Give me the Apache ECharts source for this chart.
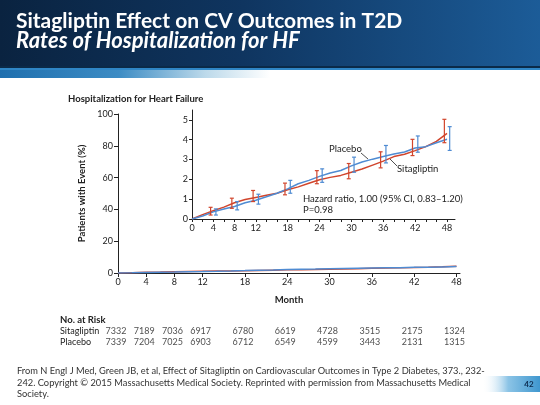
<!DOCTYPE html>
<html>
<head>
<meta charset="utf-8">
<script src="https://cdn.jsdelivr.net/npm/echarts@6/dist/echarts.min.js"></script>
<style>
  html, body { margin: 0; padding: 0; background: #fff; }
  #main { width: 540px; height: 405px; }
</style>
</head>
<body>
<div id="main"></div>
<script>
// cumulative incidence (%) read every 2 months
const months = [0, 2, 4, 6, 8, 10, 12, 14, 16, 18, 20, 22, 24, 26, 28, 30, 32, 34, 36, 38, 40, 42, 44, 46, 48]
const sitagliptin = [0, 0.22, 0.42, 0.6, 0.82, 0.98, 1.09, 1.2, 1.3, 1.48, 1.62, 1.8, 1.98, 2.1, 2.2, 2.36, 2.52, 2.72, 2.92, 3.15, 3.27, 3.45, 3.65, 3.92, 4.32]
const placebo = [0, 0.15, 0.36, 0.5, 0.63, 0.82, 0.95, 1.12, 1.3, 1.52, 1.78, 1.95, 2.15, 2.32, 2.45, 2.68, 2.88, 3.02, 3.15, 3.28, 3.38, 3.58, 3.65, 3.85, 4.02]

// 95% CI bars
const sitaCiMonths = [3.5, 7.5, 11.5, 17.5, 23.5, 29.5, 35.5, 41.5, 47.5]
const sitaCiLow = [0.2, 0.54, 0.88, 1.22, 1.78, 2.03, 2.58, 3.2, 3.85]
const sitaCiHigh = [0.59, 1.05, 1.44, 1.81, 2.44, 2.8, 3.39, 4.02, 5.03]
const placCiMonths = [4.5, 8.5, 12.5, 18.5, 24.5, 30.5, 36.5, 42.5, 48.5]
const placCiLow = [0.2, 0.46, 0.75, 1.3, 1.85, 2.36, 2.83, 3.37, 3.46]
const placCiHigh = [0.51, 0.88, 1.25, 1.95, 2.53, 3.12, 3.71, 4.19, 4.66]

// number at risk
const riskMonths = [0, 4, 8, 12, 18, 24, 30, 36, 42, 48]
const sitaRisk = [7332, 7189, 7036, 6917, 6780, 6619, 4728, 3515, 2175, 1324]
const placRisk = [7339, 7204, 7025, 6903, 6712, 6549, 4599, 3443, 2131, 1315]

const monthTicks = [0, 4, 8, 12, 18, 24, 30, 36, 42, 48]
const insetMinorTicks = [0, 2, 4, 6, 8, 10, 12, 14, 16, 18, 20, 22, 24, 26, 28, 30, 32, 34, 36, 38, 40, 42, 44, 46, 48]

const RED = '#d1452c'
const BLUE = '#4f8bd2'
const INK = '#222'
const FONT = 'Lato'

const chart = echarts.init(document.getElementById('main'), null, { renderer: 'canvas' })

function pairs(xs, ys) {
  return xs.map((x, i) => [x, ys[i]])
}
function ci(xs, lo, hi) {
  return xs.map((x, i) => [x, lo[i], hi[i]])
}

function errorBar(params, api) {
  const x = api.value(0)
  const a = api.coord([x, api.value(1)])
  const b = api.coord([x, api.value(2)])
  const w = 2
  const style = { stroke: api.visual('color'), lineWidth: 1.2 }
  return {
    type: 'group',
    children: [
      { type: 'line', shape: { x1: a[0], y1: a[1], x2: b[0], y2: b[1] }, style },
      { type: 'line', shape: { x1: a[0] - w, y1: a[1], x2: a[0] + w, y2: a[1] }, style },
      { type: 'line', shape: { x1: b[0] - w, y1: b[1], x2: b[0] + w, y2: b[1] }, style }
    ]
  }
}

const axisLine = { lineStyle: { color: INK, width: 1 } }
const tickLabel = { color: INK, fontSize: 9, fontFamily: FONT }

const option = {
  animation: false,
  backgroundColor: '#fff',
  grid: [
    { left: 118, top: 114, width: 342, height: 159 },
    { left: 192, top: 110, width: 263, height: 109 },
    { left: 118, top: 326, width: 342, height: 22 }
  ],
  xAxis: [
    {
      gridIndex: 0, type: 'value', min: 0, max: 48.5,
      axisLine, splitLine: { show: false },
      axisTick: { customValues: monthTicks, length: 4, lineStyle: { color: INK } },
      axisLabel: Object.assign({ customValues: monthTicks, margin: 5 }, tickLabel),
      name: 'Month', nameLocation: 'middle', nameGap: 22,
      nameTextStyle: { color: INK, fontSize: 9.5, fontWeight: 'bold', fontFamily: FONT }
    },
    {
      gridIndex: 1, type: 'value', min: 0, max: 49.5,
      axisLine, splitLine: { show: false },
      axisTick: { customValues: insetMinorTicks, length: 3, lineStyle: { color: INK } },
      axisLabel: Object.assign({ customValues: monthTicks, margin: 5 }, tickLabel)
    },
    {
      gridIndex: 2, type: 'value', min: 0, max: 48.5, show: false
    }
  ],
  yAxis: [
    {
      gridIndex: 0, type: 'value', min: 0, max: 100, interval: 20,
      axisLine: { show: true, lineStyle: { color: INK } }, splitLine: { show: false },
      axisTick: { show: true, length: 4, lineStyle: { color: INK } },
      axisLabel: Object.assign({ margin: 5 }, tickLabel),
      name: 'Patients with Event (%)', nameLocation: 'middle', nameGap: 31, nameRotate: 90,
      nameTextStyle: { color: INK, fontSize: 9.5, fontWeight: 'bold', fontFamily: FONT }
    },
    {
      gridIndex: 1, type: 'value', min: 0, max: 5.5, interval: 1,
      axisLine: { show: true, lineStyle: { color: INK } }, splitLine: { show: false },
      axisTick: { show: true, length: 3, lineStyle: { color: INK } },
      axisLabel: Object.assign({ margin: 4, showMaxLabel: false }, tickLabel)
    },
    {
      gridIndex: 2, type: 'category', data: ['Sitagliptin', 'Placebo'], inverse: true, show: false
    }
  ],
  series: [
    // main panel
    { type: 'line', xAxisIndex: 0, yAxisIndex: 0, data: pairs(months, sitagliptin), symbol: 'none', lineStyle: { color: RED, width: 1.5 }, z: 3 },
    { type: 'line', xAxisIndex: 0, yAxisIndex: 0, data: pairs(months, placebo), symbol: 'none', lineStyle: { color: BLUE, width: 1.5 }, z: 4 },
    // inset
    { type: 'line', xAxisIndex: 1, yAxisIndex: 1, data: pairs(months, sitagliptin), symbol: 'none', lineStyle: { color: RED, width: 1.5 }, z: 3 },
    { type: 'line', xAxisIndex: 1, yAxisIndex: 1, data: pairs(months, placebo), symbol: 'none', lineStyle: { color: BLUE, width: 1.5 }, z: 4 },
    { type: 'custom', xAxisIndex: 1, yAxisIndex: 1, data: ci(sitaCiMonths, sitaCiLow, sitaCiHigh), renderItem: errorBar, itemStyle: { color: RED }, encode: { x: 0, y: [1, 2] }, z: 5 },
    { type: 'custom', xAxisIndex: 1, yAxisIndex: 1, data: ci(placCiMonths, placCiLow, placCiHigh), renderItem: errorBar, itemStyle: { color: BLUE }, encode: { x: 0, y: [1, 2] }, z: 5 },
    // number at risk rows
    {
      type: 'scatter', xAxisIndex: 2, yAxisIndex: 2, symbolSize: 0,
      data: riskMonths.map((m, i) => [m, 'Sitagliptin', sitaRisk[i]]),
      label: { show: true, position: 'inside', offset: [-2, 0], formatter: p => p.value[2], color: INK, fontSize: 9, fontFamily: FONT }
    },
    {
      type: 'scatter', xAxisIndex: 2, yAxisIndex: 2, symbolSize: 0,
      data: riskMonths.map((m, i) => [m, 'Placebo', placRisk[i]]),
      label: { show: true, position: 'inside', offset: [-2, 0], formatter: p => p.value[2], color: INK, fontSize: 9, fontFamily: FONT }
    }
  ],
  graphic: [
    // banner
    {
      type: 'rect', shape: { x: 0, y: 0, width: 540, height: 67 }, z: 0,
      style: { fill: new echarts.graphic.LinearGradient(0, 0, 1, 0, [
        { offset: 0, color: '#0a2340' }, { offset: 0.45, color: '#0f3560' }, { offset: 1, color: '#1c5c98' }
      ]) }
    },
    { type: 'rect', shape: { x: 0, y: 66, width: 540, height: 2 }, style: { fill: '#0b2a48' }, z: 0 },
    { type: 'rect', shape: { x: 0, y: 68, width: 540, height: 2 }, style: { fill: '#2f86c6' }, z: 0 },
    {
      type: 'rect', shape: { x: 0, y: 70, width: 540, height: 8 }, z: 0,
      style: { fill: new echarts.graphic.LinearGradient(0, 0, 1, 0, [
        { offset: 0, color: '#1f6fae' }, { offset: 0.22, color: '#3d8cc4' }, { offset: 0.38, color: '#bcd9ea' }, { offset: 0.5, color: '#ffffff' }, { offset: 1, color: '#ffffff' }
      ]) }
    },
    { type: 'text', x: 16, y: 21, style: { text: 'Sitagliptin Effect on CV Outcomes in T2D', fill: '#fff', font: 'bold 21px Lato', verticalAlign: 'middle' }, z: 10 },
    { type: 'text', x: 16, y: 41, style: { text: 'Rates of Hospitalization for HF', fill: '#fff', font: 'italic bold 22px Lato', verticalAlign: 'middle' }, z: 10 },

    // panel title
    { type: 'text', x: 68, y: 99, style: { text: 'Hospitalization for Heart Failure', fill: INK, font: 'bold 9.5px Lato', verticalAlign: 'middle' } },

    // inset annotations
    { type: 'text', x: 329, y: 149, style: { text: 'Placebo', fill: INK, font: '9.5px Lato', verticalAlign: 'middle' } },
    { type: 'line', shape: { x1: 361, y1: 153, x2: 368, y2: 159 }, style: { stroke: INK, lineWidth: 0.8 } },
    { type: 'text', x: 397, y: 169, style: { text: 'Sitagliptin', fill: INK, font: '9.5px Lato', verticalAlign: 'middle' } },
    { type: 'line', shape: { x1: 390, y1: 159, x2: 397, y2: 166 }, style: { stroke: INK, lineWidth: 0.8 } },
    { type: 'text', x: 303, y: 199, style: { text: 'Hazard ratio, 1.00 (95% CI, 0.83\u20131.20)', fill: INK, font: '9.5px Lato', verticalAlign: 'middle' } },
    { type: 'text', x: 303, y: 210, style: { text: 'P=0.98', fill: INK, font: '9.5px Lato', verticalAlign: 'middle' } },

    // number at risk labels
    { type: 'text', x: 60, y: 320, style: { text: 'No. at Risk', fill: INK, font: 'bold 9.5px Lato', verticalAlign: 'middle' } },
    { type: 'text', x: 60, y: 331.5, style: { text: 'Sitagliptin', fill: INK, font: '9px Lato', verticalAlign: 'middle' } },
    { type: 'text', x: 60, y: 342.5, style: { text: 'Placebo', fill: INK, font: '9px Lato', verticalAlign: 'middle' } },

    // footer
    { type: 'text', x: 17, y: 371, style: { text: 'From N Engl J Med, Green JB, et al, Effect of Sitagliptin on Cardiovascular Outcomes in Type 2 Diabetes, 373., 232-', fill: '#333', font: '9.3px Lato', verticalAlign: 'middle' } },
    { type: 'text', x: 17, y: 383, style: { text: '242. Copyright \u00a9 2015 Massachusetts Medical Society. Reprinted with permission from Massachusetts Medical', fill: '#333', font: '9.3px Lato', verticalAlign: 'middle' } },
    { type: 'text', x: 17, y: 394, style: { text: 'Society.', fill: '#333', font: '9.3px Lato', verticalAlign: 'middle' } },
    {
      type: 'rect', shape: { x: 482, y: 376, width: 58, height: 16 }, z: 0,
      style: { fill: new echarts.graphic.LinearGradient(0, 0, 1, 0, [
        { offset: 0, color: 'rgba(255,255,255,0)' }, { offset: 0.45, color: '#8cc4e6' }, { offset: 1, color: '#3f97cf' }
      ]) }
    },
    { type: 'text', x: 529, y: 384, style: { text: '42', fill: '#0d2b4e', font: 'bold 8px Lato', align: 'center', verticalAlign: 'middle' }, z: 10 }
  ]
}

chart.setOption(option)
</script>
</body>
</html>
